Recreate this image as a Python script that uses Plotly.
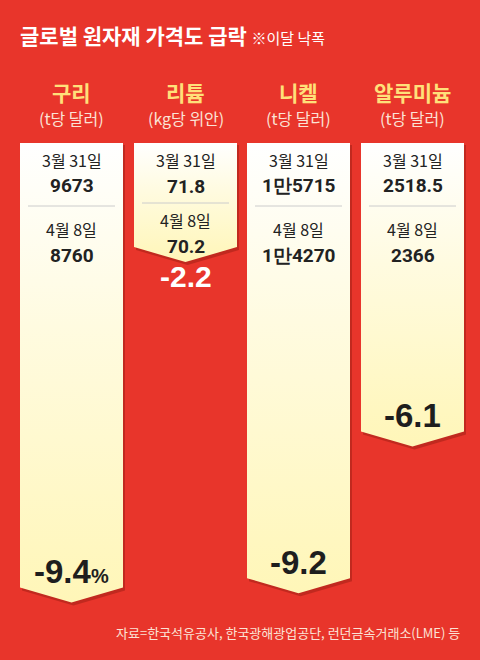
import plotly.graph_objects as go

metals = ["구리", "리튬", "니켈", "알루미늄"]
units = ["(t당 달러)", "(kg당 위안)", "(t당 달러)", "(t당 달러)"]
price_mar31 = ["9673", "71.8", "1만5715", "2518.5"]
price_apr8 = ["8760", "70.2", "1만4270", "2366"]
change_pct = [-9.4, -2.2, -9.2, -6.1]

RED = "#E8352B"
FONT = "Noto Sans CJK KR"
col_left = [20, 134, 247, 361]
col_w = 103
top = 143
px_per_pct = 47.3
tip = 15

fig = go.Figure()
for i, name in enumerate(metals):
    x0 = col_left[i]
    x1 = x0 + col_w
    xm = (x0 + x1) / 2
    end = top + px_per_pct * abs(change_pct[i])
    # shadow
    fig.add_trace(go.Scatter(
        x=[x0 + 2, x1 + 2, x1 + 2, xm + 2, x0 + 2, x0 + 2],
        y=[top + 2, top + 2, end + 3, end + tip + 3, end + 3, top + 2],
        mode="lines", fill="toself", fillcolor="rgba(120,20,10,0.35)",
        line=dict(width=0), hoverinfo="skip", showlegend=False))
    fig.add_trace(go.Scatter(
        x=[x0, x1, x1, xm, x0, x0],
        y=[top, top, end, end + tip, end, top],
        mode="lines", fill="toself",
        fillgradient=dict(type="vertical",
                          colorscale=[[0, "#FFF6B8"], [0.6, "#FFFBE0"], [1, "#FFFFFF"]]),
        line=dict(width=0), hoverinfo="skip", showlegend=False))

    fig.add_annotation(x=xm, y=92, text=f"<b>{name}</b>", showarrow=False,
                       font=dict(family=FONT, size=21, color="#FFE07A"))
    fig.add_annotation(x=xm, y=118, text=units[i], showarrow=False,
                       font=dict(family=FONT, size=16, color="#FBE3D6"))
    lith = i == 1
    fig.add_annotation(x=xm, y=160, text="3월 31일", showarrow=False,
                       font=dict(family=FONT, size=16, color="#222"))
    fig.add_annotation(x=xm, y=186 if lith else 185, text=f"<b>{price_mar31[i]}</b>", showarrow=False,
                       font=dict(family="Roboto", size=19, color="#222"))
    ly = 203 if lith else 206
    fig.add_shape(type="line", x0=x0 + 8, x1=x1 - 8, y0=ly, y1=ly,
                  line=dict(color="#CCCCCC", width=1))
    fig.add_annotation(x=xm, y=220 if lith else 229, text="4월 8일", showarrow=False,
                       font=dict(family=FONT, size=16, color="#222"))
    fig.add_annotation(x=xm, y=246 if lith else 255, text=f"<b>{price_apr8[i]}</b>", showarrow=False,
                       font=dict(family="Roboto", size=19, color="#222"))

    lbl = f"{change_pct[i]:.1f}"
    if i == 0:
        lbl += "<span style='font-size:20px'>%</span>"
    if lith:
        fig.add_annotation(x=xm, y=end + tip + 14, text=f"<b>{lbl}</b>", showarrow=False,
                           font=dict(family="Liberation Sans", size=30, color="white"))
    else:
        fig.add_annotation(x=xm, y=end - 16, text=f"<b>{lbl}</b>", showarrow=False,
                           font=dict(family="Liberation Sans", size=33, color="#1E1E1E"))

fig.add_annotation(x=18, y=35, xanchor="left", showarrow=False,
                   text="<b>글로벌 원자재 가격도 급락</b> <span style='font-size:15px'>※이달 낙폭</span>",
                   font=dict(family=FONT, size=21, color="white"))
fig.add_annotation(x=462, y=632, xanchor="right", showarrow=False,
                   text="자료=한국석유공사, 한국광해광업공단, 런던금속거래소(LME) 등",
                   font=dict(family=FONT, size=13, color="#FBE3D6"))

fig.update_layout(
    width=480, height=660, margin=dict(l=0, r=0, t=0, b=0),
    paper_bgcolor=RED, plot_bgcolor=RED,
    xaxis=dict(range=[0, 480], visible=False, fixedrange=True),
    yaxis=dict(range=[660, 0], visible=False, fixedrange=True),
)
fig.write_html("out.html", config={"displayModeBar": False},
               post_script="document.body.style.margin='0';document.body.style.background='#E8352B';")
